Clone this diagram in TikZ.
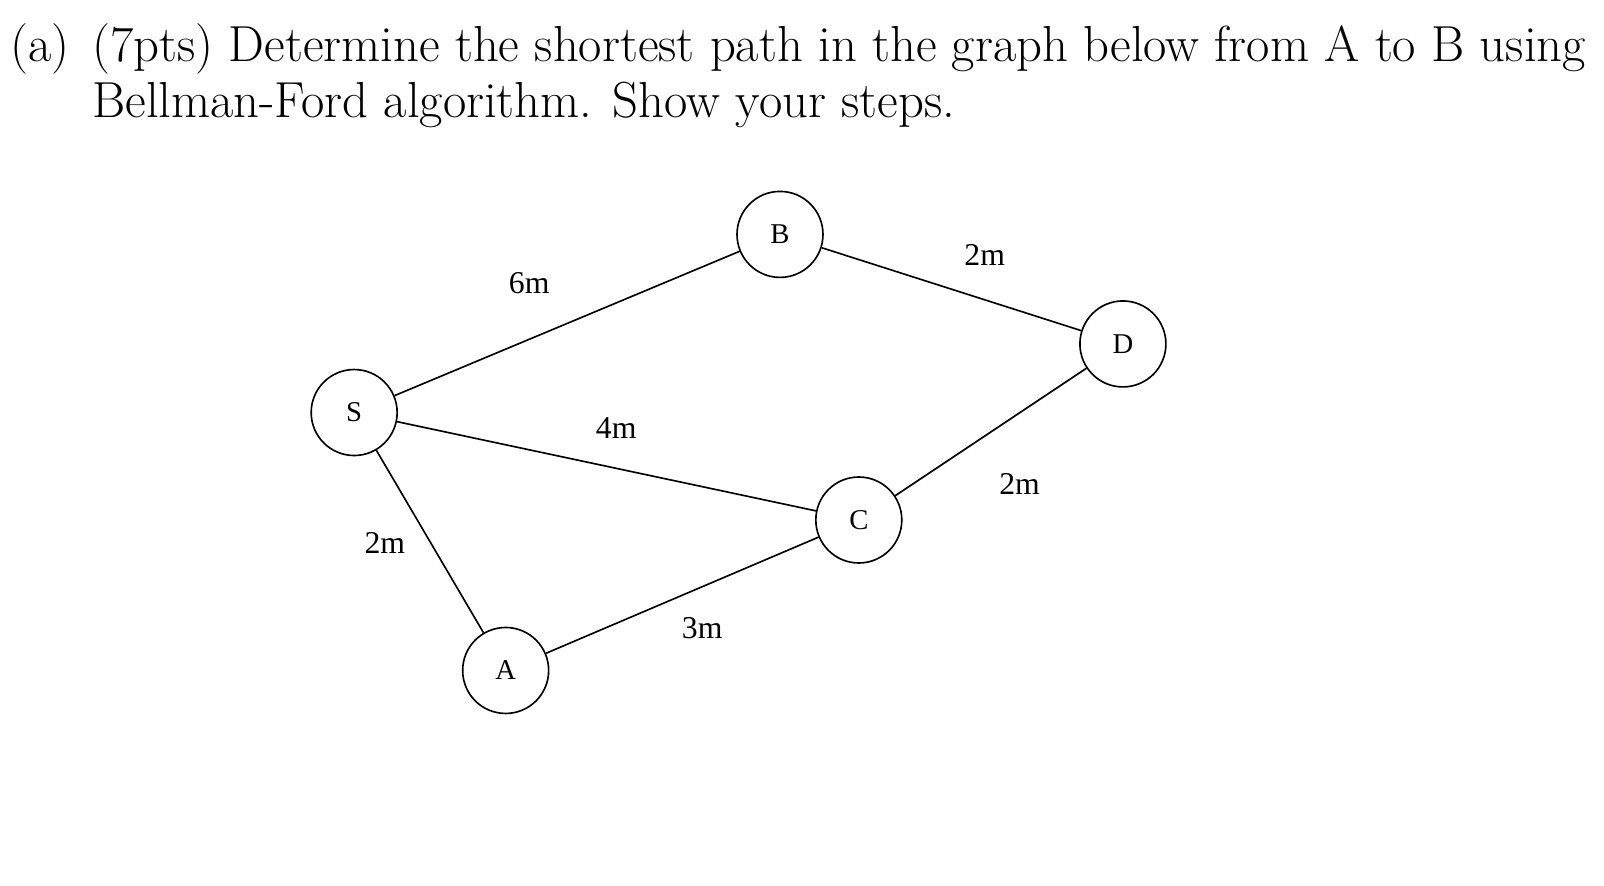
\documentclass[tikz,border=0pt]{standalone}
\usepackage{fontspec}
\newfontfamily\lblfont{Liberation Serif}
\begin{document}
\begin{tikzpicture}[x=1pt,y=-1pt,
  vtx/.style={circle,draw,line width=1.6pt,minimum size=84pt,inner sep=0pt,font=\lblfont\fontsize{28}{30}\selectfont},
  lbl/.style={font=\lblfont\fontsize{31}{34}\selectfont},
  edge/.style={line width=1.6pt}]
\useasboundingbox (0,0) rectangle (1567,865);
\node[anchor=base west,inner sep=0pt,font=\fontsize{49.5}{58}\selectfont] (t1) at (10,60) {(a)};
\node[anchor=base west,inner sep=0pt,font=\fontsize{49.5}{58}\selectfont] (t2) at (90,60) {(7pts) Determine the shortest path in the graph below from A to B using};
\node[anchor=base west,inner sep=0pt,font=\fontsize{49.5}{58}\selectfont] (t3) at (90,115) {Bellman-Ford algorithm. Show your steps.};
\node[vtx] (B) at (762,229) {B};
\node[vtx] (D) at (1097,336) {D};
\node[vtx] (S) at (346,403) {S};
\node[vtx] (C) at (839,508) {C};
\node[vtx] (A) at (494,655) {A};
\draw[edge] (S)--(B);
\draw[edge] (B)--(D);
\draw[edge] (S)--(C);
\draw[edge] (S)--(A);
\draw[edge] (A)--(C);
\draw[edge] (C)--(D);
\node[lbl] (l1) at (517,277) {6m};
\node[lbl] (l2) at (962,249) {2m};
\node[lbl] (l3) at (602,418) {4m};
\node[lbl] (l4) at (996,473) {2m};
\node[lbl] (l5) at (376,530) {2m};
\node[lbl] (l6) at (686,614) {3m};
\end{tikzpicture}
\end{document}
